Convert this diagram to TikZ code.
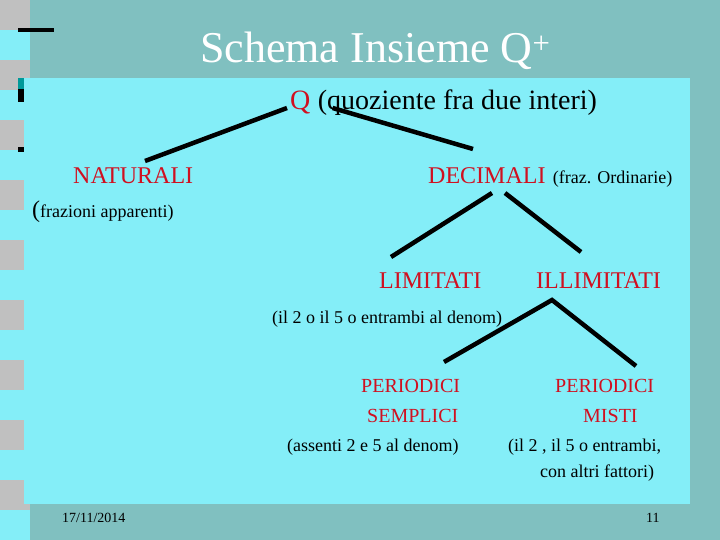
\documentclass[tikz,border=0pt]{standalone}
\usepackage{fontspec}
\setmainfont{Liberation Serif}

\definecolor{slideteal}{HTML}{80C0C0}
\definecolor{slidecyan}{HTML}{84EEF8}
\definecolor{stripgray}{HTML}{C0C0C0}
\definecolor{darkteal}{HTML}{009999}
\definecolor{clsred}{HTML}{D01020}

\tikzstyle{cls}=[text=clsred,inner sep=0pt,anchor=base west,font=\fontsize{24}{27}\selectfont]
\tikzstyle{subcls}=[cls,font=\fontsize{20}{23}\selectfont]
\tikzstyle{note}=[text=black,inner sep=0pt,anchor=base west,font=\fontsize{18}{21}\selectfont]
\tikzstyle{foot}=[note,font=\fontsize{14}{16}\selectfont]
\tikzstyle{branch}=[line width=4.5pt]

\begin{document}
\begin{tikzpicture}[x=1pt,y=-1pt]

	\useasboundingbox (0,0) rectangle (720,540);
	\fill[slideteal] (0,0) rectangle (720,540);
	\fill[slidecyan] (0,0) rectangle (30,540);
	\foreach \y in {0,60,...,480}
		\fill[stripgray] (0,\y) rectangle (30,\y+30);
	\fill[slidecyan] (24,78) rectangle (690,504);
	\fill[black] (18,28) rectangle (54,32);
	\fill[darkteal] (18,78) rectangle (24,89);
	\fill[black] (18,89) rectangle (24,102);
	\fill[black] (18,147) rectangle (24,152);

	\node[inner sep=0pt,anchor=base west,text=white,font=\fontsize{44}{48}\selectfont] (title) at (200,63) {Schema Insieme Q\textsuperscript{+}};

	\node[cls,font=\fontsize{28}{32}\selectfont] (q) at (290,110) {Q};
	\node[note,font=\fontsize{28}{32}\selectfont] (qdesc) at ([xshift=7pt]q.base east) {(quoziente fra due interi)};

	\node[cls] (nat) at (73,184) {NATURALI};
	\node[note] (natnote) at (32,218) {{\fontsize{24}{27}\selectfont(}frazioni apparenti)};

	\node[cls] (dec) at (428,184) {DECIMALI};
	\node[note] (decnote) at ([xshift=7pt]dec.base east) {(fraz. Ordinarie)};

	\node[cls] (lim) at (379,288) {LIMITATI};
	\node[cls] (ill) at (536,288) {ILLIMITATI};
	\node[note] (limnote) at (272,323) {(il 2 o il 5 o entrambi al denom)};

	\node[subcls] (ps) at (361,392) {PERIODICI};
	\node[subcls] (sem) at (367,422) {SEMPLICI};
	\node[note] (psnote) at (287,451) {(assenti 2 e 5 al denom)};

	\node[subcls] (pm) at (555,392) {PERIODICI};
	\node[subcls] (misti) at (583,422) {MISTI};
	\node[note] (pmnote) at (508,451) {(il 2 , il 5 o entrambi,};
	\node[note] (pmnote2) at (540,477) {con altri fattori)};

	\node[foot] (date) at (62,522) {17/11/2014};
	\node[foot] (page) at (646,522) {11};

	\draw[branch] ([xshift=-3pt,yshift=2pt]q.base west) -- ([xshift=72pt,yshift=23pt]nat.base west);
	\draw[branch] ([xshift=15pt,yshift=2pt]qdesc.base west) -- ([xshift=45pt,yshift=35pt]dec.base west);
	\draw[branch] ([xshift=64pt,yshift=-9pt]dec.base west) -- ([xshift=12pt,yshift=31pt]lim.base west);
	\draw[branch] ([xshift=77pt,yshift=-9pt]dec.base west) -- ([xshift=45pt,yshift=36pt]ill.base west);
	\draw[branch] ([xshift=83pt,yshift=30pt]ps.base west) -- ([xshift=16pt,yshift=-12pt]ill.base west) -- ([xshift=81pt,yshift=26pt]pm.base west);
\end{tikzpicture}
\end{document}
